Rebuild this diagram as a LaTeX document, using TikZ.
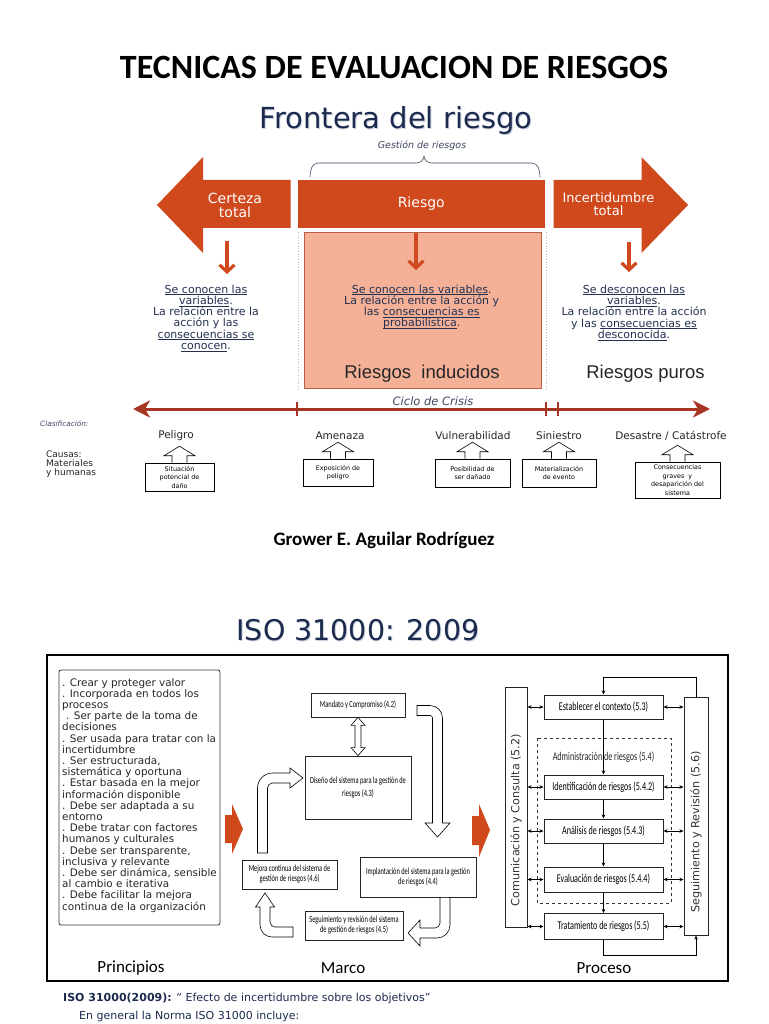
\documentclass[tikz,border=0pt]{standalone}
\usepackage{fontspec}
\setmainfont{DejaVu Sans}
\newfontfamily\carl{Carlito}
\newfontfamily\narrowcarl[FakeStretch=0.68]{Carlito}
\newfontfamily\libsans{Liberation Sans}
\usetikzlibrary{arrows.meta,calc}
\newcommand\fsz[2]{\fontsize{#1}{#2}\selectfont}
\newcommand\ulx[1]{\setbox0\hbox{#1}\rlap{\rule[-1.8pt]{\wd0}{0.55pt}}\box0}
\definecolor{org}{RGB}{207,73,28}
\definecolor{pinkf}{RGB}{244,177,152}
\definecolor{pinkb}{RGB}{185,95,70}
\definecolor{navy}{RGB}{28,42,78}
\definecolor{txt}{RGB}{35,48,80}
\definecolor{dred}{RGB}{168,52,36}
\definecolor{gestc}{RGB}{60,70,95}
\definecolor{glow}{RGB}{200,206,222}
\begin{document}
\begin{tikzpicture}[x=1pt,y=-1pt,
  hol/.style={draw=black,line width=0.6pt},
  cbox/.style={draw=black,line width=0.6pt,fill=white,align=center,inner sep=0pt,font=\fsz{6.4}{8.5}},
  mbox/.style={draw=black!85,line width=0.8pt,fill=white,align=center,inner sep=0pt,font=\narrowcarl\fsz{9.4}{10}},
  pbox/.style={draw=black!85,line width=1pt,fill=white,align=center,inner sep=0pt,font=\narrowcarl\fsz{11.9}{12},minimum width=119pt,minimum height=24pt},
  thinarr/.style={line width=0.6pt,-{Stealth[length=4pt,width=3.5pt]}},
  dblarr/.style={line width=0.6pt,{Stealth[length=4pt,width=3.5pt]}-{Stealth[length=4pt,width=3.5pt]}},
  bodytxt/.style={align=center,inner sep=0pt,text=txt,font=\fsz{11}{11.3}},
  lbl/.style={inner sep=0pt,font=\fsz{10.5}{11},text=black!85},
  orgsmall/.style={org,line width=3.2pt,-{Straight Barb[length=7pt,width=15pt]}}
]
\useasboundingbox (0,0) rectangle (768,1024);
\fill[white] (0,0) rectangle (768,1024);

% ---------- Title ----------
\node[font=\carl\bfseries\fsz{34}{34}] (title) at (394,67) {TECNICAS DE EVALUACION DE RIESGOS};
\node[font=\fsz{29}{29},text=glow] (frontsh) at (396.9,122) {Frontera del riesgo};
\node[font=\fsz{29}{29},text=navy] (front) at (396,121) {Frontera del riesgo};
\node[font=\itshape\fsz{9.5}{10},text=gestc] (gest) at (422,146) {Gestión de riesgos};
\draw[gestc,line width=0.6pt] (310,177) to[out=90,in=180] (318,163) -- (416,163) to[out=0,in=270] (424,156)
  to[out=270,in=180] (432,163) -- (532,163) to[out=0,in=90] (540,177);

% ---------- big arrows ----------
\fill[org] (290.5,180) -- (203,180) -- (203,157) -- (157,205) -- (203,253) -- (203,228) -- (290.5,228) -- cycle;
\fill[org] (553.5,180) -- (641.5,180) -- (641.5,157) -- (688,205) -- (641.5,253) -- (641.5,228) -- (553.5,228) -- cycle;
\node[fill=org,minimum width=247.5pt,minimum height=48pt,inner sep=0pt,text=white,font=\fsz{14}{14}] (ries) at (421.25,204) {Riesgo};
\node[align=center,text=white,font=\fsz{14}{14},inner sep=0pt] (cert) at (235,205) {Certeza\\total};
\node[align=center,text=white,font=\fsz{13}{12.5},inner sep=0pt] (incer) at (608.5,204) {Incertidumbre\\total};

\draw[gray!55,dotted,line width=0.7pt] (298,232) -- (298,390);
\draw[gray!55,dotted,line width=0.7pt] (546,232) -- (546,390);
\node[fill=pinkf,draw=pinkb,line width=0.7pt,minimum width=237pt,minimum height=156pt,inner sep=0pt] (pink) at (422.5,310) {};

\coordinate (a1s) at (227,241); \coordinate (a1e) at (227,274);
\coordinate (a2s) at (416,233); \coordinate (a2e) at (416,270);
\coordinate (a3s) at (629,242); \coordinate (a3e) at (629,272);
\draw[orgsmall] (a1s) -- (a1e);
\draw[orgsmall] (a2s) -- (a2e);
\draw[orgsmall] (a3s) -- (a3e);

\node[bodytxt] (tl) at (206,318) {\ulx{Se conocen las}\\\ulx{variables}.\\La relación entre la\\acción y las\\\ulx{consecuencias se}\\\ulx{conocen}.};
\node[bodytxt] (tm) at (421.7,307) {\ulx{Se conocen las variables}.\\La relación entre la acción y\\las \ulx{consecuencias es}\\\ulx{probabilística}.};
\node[bodytxt] (tr) at (634,312.5) {\ulx{Se desconocen las}\\\ulx{variables}.\\La relación entre la acción\\y las \ulx{consecuencias es}\\\ulx{desconocida}.};

\node[font=\libsans\fsz{18.5}{18.5},text=black!85] (rind) at (422,374) {Riesgos\ \ inducidos};
\node[font=\libsans\fsz{18.5}{18.5},text=black!85] (rpur) at (645.5,374) {Riesgos puros};

% ---------- ciclo de crisis ----------
\coordinate (cl) at (133,409); \coordinate (cr) at (710,409);
\draw[dred,line width=3pt,{Stealth[length=17pt,width=17pt,inset=5pt]}-{Stealth[length=17pt,width=17pt,inset=5pt]}] (cl) -- (cr);
\draw[dred,line width=2.5pt] (297,402) -- (297,416);
\draw[dred,line width=2.5pt] (546,402) -- (546,416);
\draw[dred,line width=2.5pt] (558,402) -- (558,416);
\node[font=\itshape\fsz{11.5}{12},text=gestc] (ciclo) at (433,401) {Ciclo de Crisis};
\node[anchor=west,font=\itshape\fsz{7.3}{8},text=gestc,inner sep=0pt] (clasif) at (40,424) {Clasificación:};

\node[lbl] (peli) at (176,436) {Peligro};
\node[lbl] (amen) at (340,436) {Amenaza};
\node[lbl] (vuln) at (473,436) {Vulnerabilidad};
\node[lbl] (sini) at (559,436) {Siniestro};
\node[lbl] (desa) at (671,436) {Desastre / Catástrofe};
\node[anchor=west,align=left,inner sep=0pt,font=\fsz{9}{9},text=black!85] (causas) at (46,464) {Causas:\\Materiales\\y humanas};

\node[cbox,minimum width=69pt,minimum height=28pt] (sit) at (179.5,477) {Situación\\potencial de\\daño};
\node[cbox,minimum width=70pt,minimum height=27pt] (expo) at (338,472.5) {Exposición de\\peligro};
\node[cbox,minimum width=75pt,minimum height=28pt] (posi) at (472.5,473) {Posibilidad de\\ser dañado};
\node[cbox,minimum width=74pt,minimum height=28pt] (mate) at (559,473) {Materialización\\de evento};
\node[cbox,minimum width=85pt,minimum height=36pt] (cons) at (677.5,480) {Consecuencias\\graves\ \ y\\desaparición del\\sistema};
\foreach \b in {sit,expo,posi,mate,cons}{
  \draw[hol,fill=white] ([xshift=-7.5pt]\b.north) -- ++(0,-7) -- ++(-8,0) -- ++(15.5,-9.5) -- ++(15.5,9.5) -- ++(-8,0) -- ++(0,7);
}

% ---------- author, ISO ----------
\node[font=\carl\bfseries\fsz{19}{19}] (auth) at (384,540) {Grower E. Aguilar Rodríguez};
\node[font=\fsz{28.5}{28.5},text=glow] (isosh) at (358.9,631) {ISO 31000: 2009};
\node[font=\fsz{28.5}{28.5},text=navy] (iso) at (358,630) {ISO 31000: 2009};

\draw[line width=2pt] (47,655) rectangle (728,981);

% ---------- Principios ----------
\node[draw=black!80,line width=0.8pt,rounded corners=2pt,minimum width=161pt,minimum height=255pt,inner sep=0pt] (pbx) at (139.5,797.5) {};
\node[anchor=north west,align=left,inner sep=0pt,font=\fsz{10.4}{11.2},text=black!85] (ptxt) at (62,678) {. Crear y proteger valor\\
. Incorporada en todos los\\
procesos\\
\hspace*{4pt}. Ser parte de la toma de\\
decisiones\\
. Ser usada para tratar con la\\
incertidumbre\\
. Ser estructurada,\\
sistemática y oportuna\\
. Estar basada en la mejor\\
información disponible\\
. Debe ser adaptada a su\\
entorno\\
. Debe tratar con factores\\
humanos y culturales\\
. Debe ser transparente,\\
inclusiva y relevante\\
. Debe ser dinámica, sensible\\
al cambio e iterativa\\
. Debe facilitar la mejora\\
continua de la organización};

\fill[org] (225,815) -- (232,815) -- (232,804) -- (243,829) -- (232,854) -- (232,843) -- (225,843) -- cycle;
\fill[org] (472,816) -- (479,816) -- (479,804) -- (490,830) -- (479,857) -- (479,845) -- (472,845) -- cycle;

% ---------- Marco ----------
\node[mbox,minimum width=94pt,minimum height=24pt] (mand) at (358,705) {Mandato y Compromiso (4.2)};
\node[mbox,minimum width=106pt,minimum height=63pt,font=\narrowcarl\fsz{9.4}{13}] (dis) at (358,787.5) {Diseño del sistema para la gestión de\\riesgos (4.3)};
\node[mbox,minimum width=95pt,minimum height=29pt] (mej) at (289.5,874.5) {Mejora continua del sistema de\\gestión de riesgos (4.6)};
\node[mbox,minimum width=116pt,minimum height=40pt] (imp) at (418,877) {Implantación del sistema para la gestión\\de riesgos (4.4)};
\node[mbox,minimum width=98pt,minimum height=29pt] (sg45) at (354,925.5) {Seguimiento y revisión del sistema\\de gestión de riesgos (4.5)};

\draw[hol,fill=white] (mand.south) -- ++(7,8) -- ++(-4,0) -- ($(dis.north)+(3,-8)$) -- ++(4,0) -- (dis.north) -- ++(-7,-8) -- ++(4,0) -- ($(mand.south)+(-3,8)$) -- ++(-4,0) -- cycle;

\draw[hol,fill=white] (417,705.5) -- (430,705.5) to[out=0,in=90] (442.5,718) -- (442.5,823) -- (450,823) -- (437.5,837) -- (425,823) -- (432.5,823) -- (432.5,718) to[out=90,in=0] (430,715.5) -- (417,715.5) -- cycle;
\draw[hol,fill=white] (257.5,853) -- (257.5,788) to[out=90,in=180] (272.5,773) -- (290,773) -- (290,768) -- (303,778) -- (290,788) -- (290,783) -- (272.5,783) to[out=180,in=90] (267.5,788) -- (267.5,853) -- cycle;
\draw[hol,fill=white] (imp.south -| 440,0) -- (440,923) to[out=270,in=0] (435,928) -- (420,928) -- (420,920) -- (408,933) -- (420,946) -- (420,938) -- (437,938) to[out=0,in=270] (450,925) -- (imp.south -| 450,0) -- cycle;
\draw[hol,fill=white] (293,927) -- (275,927) to[out=180,in=270] (270,922) -- (270,907) -- (274.5,907) -- (265,893) -- (255.5,907) -- (260,907) -- (260,925) to[out=270,in=180] (272,937) -- (293,937) -- cycle;

% ---------- Proceso ----------
\node[draw=black!85,line width=1pt,minimum width=22pt,minimum height=240pt,inner sep=0pt] (com) at (516,807) {};
\node[rotate=90,font=\fsz{11.2}{12},text=black!80,inner sep=0pt] (comt) at (516,820) {Comunicación y Consulta (5.2)};
\node[draw=black!85,line width=1pt,minimum width=24pt,minimum height=238pt,inner sep=0pt] (seg) at (696,816) {};
\node[rotate=90,font=\fsz{11.2}{12},text=black!80,inner sep=0pt] (segt) at (696,832) {Seguimiento y Revisión (5.6)};

\draw[dashed,line width=0.7pt,black!80] (537,738) rectangle (671,903);
\node[pbox] (est) at (603.5,707) {Establecer el contexto (5.3)};
\node[pbox] (ide) at (603.5,787) {Identificación de riesgos (5.4.2)};
\node[pbox] (ana) at (603.5,831) {Análisis de riesgos (5.4.3)};
\node[pbox,minimum height=25pt] (eva) at (603.5,879.5) {Evaluación de riesgos (5.4.4)};
\node[pbox,minimum height=26pt] (tra) at (603.5,926.5) {Tratamiento de riesgos (5.5)};

\draw[thinarr] (est.south) -- (ide.north);
\node[font=\narrowcarl\fsz{11.9}{12},inner sep=0pt,text=black!85] (adm) at (603.5,757) {Administración de riesgos (5.4)};
\draw[thinarr] (ide.south) -- (ana.north);
\draw[thinarr] (ana.south) -- (eva.north);
\draw[thinarr] (eva.south) -- (tra.north);
\draw[thinarr] (seg.north) -- ++(0,-19) -| (est.north);
\draw[thinarr] (tra.south) -- ++(0,15) -| (seg.south);
\foreach \b in {est,ide,ana,eva,tra}{
  \draw[dblarr] (\b.west -| com.east) -- (\b.west);
  \draw[dblarr] (\b.east) -- (\b.east -| seg.west);
}

% ---------- labels ----------
\node[font=\carl\fsz{17}{17}] (lprin) at (131,968) {Principios};
\node[font=\carl\fsz{17}{17}] (lmarc) at (343,968) {Marco};
\node[font=\carl\fsz{17}{17}] (lproc) at (604,968) {Proceso};

\node[anchor=west,inner sep=0pt,font=\fsz{11}{11},text=navy] (iso1) at (63,998) {\textbf{ISO 31000(2009):} “ Efecto de incertidumbre sobre los objetivos”};
\node[anchor=west,inner sep=0pt,font=\fsz{11}{11},text=navy] (iso2) at (79,1016) {En general la Norma ISO 31000 incluye:};
\end{tikzpicture}
\end{document}
